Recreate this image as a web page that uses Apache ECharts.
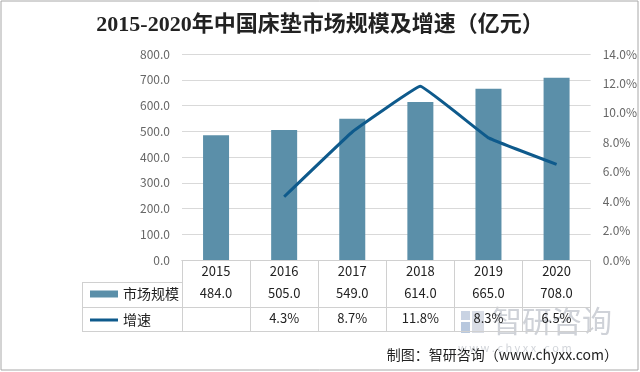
<!DOCTYPE html>
<html><head><meta charset="utf-8">
<script src="https://cdn.jsdelivr.net/npm/echarts@6/dist/echarts.min.js"></script>
<style>html,body{margin:0;padding:0;background:#fff}#c{width:640px;height:372px}</style>
</head><body><div id="c"></div>
<script>
const years = ['2015','2016','2017','2018','2019','2020'];
const marketSize = [484.0, 505.0, 549.0, 614.0, 665.0, 708.0];
const growth = [null, 4.3, 8.7, 11.8, 8.3, 6.5];
const leftTicks = {min: 0, max: 800, interval: 100};
const rightTicks = {min: 0, max: 14, interval: 2};

const FONT = "'Noto Sans CJK SC', 'Noto Sans', sans-serif";
const barColor = '#5b8fa9';
const lineColor = '#0e5a8c';
const tableLine = '#d0d0d0';

const chart = echarts.init(document.getElementById('c'));
const catAxis = (extra) => Object.assign({
  type: 'category', data: years, gridIndex: 0, position: 'bottom',
  axisLine: {show: true, lineStyle: {color: tableLine, width: 1}},
  axisTick: {show: false},
  axisLabel: {show: false},
  splitLine: {show: false}
}, extra);

chart.setOption({
  animation: false,
  backgroundColor: '#fff',
  textStyle: {fontFamily: FONT},
  title: {
    text: '2015-2020年中国床垫市场规模及增速（亿元）',
    left: 'center', top: 9,
    textStyle: {fontFamily: "'Liberation Serif', 'Noto Sans CJK SC', serif", fontSize: 22, fontWeight: 'bold', color: '#222'}
  },
  grid: {left: 182, right: 48, top: 54, bottom: 112},
  legend: [
    {data: ['市场规模'], left: 85, top: 282, orient: 'vertical', itemWidth: 28, itemHeight: 7, itemGap: 4,
     icon: 'rect', textStyle: {fontSize: 14, color: '#222', fontFamily: FONT}, selectedMode: false},
    {data: ['增速'], left: 85, top: 308, orient: 'vertical', itemWidth: 28, itemHeight: 3, itemGap: 4,
     icon: 'rect', textStyle: {fontSize: 14, color: '#222', fontFamily: FONT}, selectedMode: false}
  ],
  xAxis: [
    catAxis({
      axisTick: {show: true, length: 71, inside: false, lineStyle: {color: tableLine}},
      axisLabel: {show: true, fontSize: 13, color: '#222', margin: 5, fontFamily: FONT}
    }),
    catAxis({offset: 22,
      axisLabel: {show: true, fontSize: 13, color: '#222', margin: 5, fontFamily: FONT,
        formatter: (v, i) => marketSize[i].toFixed(1)}}),
    catAxis({offset: 47,
      axisLabel: {show: true, fontSize: 13, color: '#222', margin: 5, fontFamily: FONT,
        formatter: (v, i) => growth[i] == null ? '' : growth[i].toFixed(1) + '%'}}),
    catAxis({offset: 71})
  ],
  yAxis: [
    {type: 'value', min: leftTicks.min, max: leftTicks.max, interval: leftTicks.interval,
     axisLine: {show: false}, axisTick: {show: false},
     axisLabel: {fontSize: 12, color: '#666', margin: 12, formatter: v => v.toFixed(1), fontFamily: FONT},
     splitLine: {lineStyle: {color: '#d9d9d9'}}},
    {type: 'value', min: rightTicks.min, max: rightTicks.max, interval: rightTicks.interval,
     axisLine: {show: false}, axisTick: {show: false},
     axisLabel: {fontSize: 12, color: '#666', margin: 12, formatter: v => v.toFixed(1) + '%', fontFamily: FONT},
     splitLine: {show: false}}
  ],
  series: [
    {name: '市场规模', type: 'bar', data: marketSize, xAxisIndex: 0, yAxisIndex: 0,
     barWidth: 26, itemStyle: {color: barColor}},
    {name: '增速', type: 'line', data: growth, xAxisIndex: 0, yAxisIndex: 1,
     smooth: 0.06, showSymbol: false, symbol: 'none', connectNulls: false,
     lineStyle: {color: lineColor, width: 3}, itemStyle: {color: lineColor}}
  ],
  graphic: [
    {type: 'rect', shape: {x: 1, y: 1, width: 637, height: 369}, style: {fill: 'none', stroke: '#a8a8a8', lineWidth: 1}, silent: true},
    {type: 'line', shape: {x1: 82, y1: 282.5, x2: 182, y2: 282.5}, style: {stroke: tableLine, lineWidth: 1}},
    {type: 'line', shape: {x1: 82, y1: 307.5, x2: 182, y2: 307.5}, style: {stroke: tableLine, lineWidth: 1}},
    {type: 'line', shape: {x1: 82, y1: 331.5, x2: 182, y2: 331.5}, style: {stroke: tableLine, lineWidth: 1}},
    {type: 'line', shape: {x1: 82.5, y1: 282, x2: 82.5, y2: 331}, style: {stroke: tableLine, lineWidth: 1}},
    {type: 'rect', z: -1, shape: {x: 461, y: 311, width: 9, height: 9}, style: {fill: '#c9d3e3'}},
    {type: 'rect', z: -1, shape: {x: 472, y: 311, width: 12, height: 22}, style: {fill: '#d9dde6'}},
    {type: 'rect', z: -1, shape: {x: 461, y: 322, width: 9, height: 11}, style: {fill: '#b8c8de'}},
    {type: 'text', z: -1, left: 492, top: 306, style: {text: '智研咨询', fontSize: 30, fill: '#cfd2d8', fontFamily: FONT, letterSpacing: 4}},
    {type: 'text', z: -1, left: 458, top: 342, style: {text: 'w w w . c h y x x . c o m', fontSize: 11, fill: '#d2d5da', fontFamily: FONT}},
    {type: 'text', right: 22, top: 348, style: {text: '制图：智研咨询（www.chyxx.com）', fontSize: 14, fill: '#222', fontFamily: FONT}}
  ]
});
</script>
</body></html>
